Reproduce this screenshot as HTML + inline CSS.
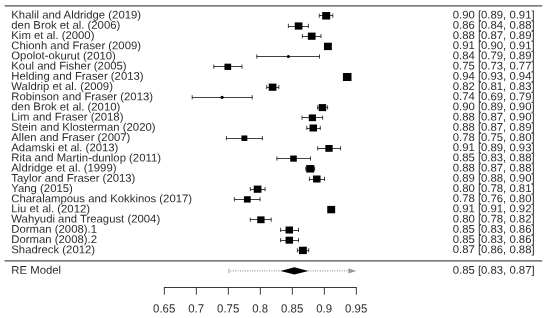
<!DOCTYPE html>
<html><head><meta charset="utf-8"><title>Forest plot</title>
<style>html,body{margin:0;padding:0;background:#fff;overflow:hidden}svg{display:block}text{font-family:"Liberation Sans",Arial,Helvetica,sans-serif;font-size:11.35px;fill:#2c2c2c}</style></head><body>
<svg width="550" height="318" viewBox="0 0 550 318">
<rect width="550" height="318" fill="#fff"/>
<g stroke="#505050" stroke-width="1.35" fill="none">
<line x1="4.6" y1="5.9" x2="542.2" y2="5.9"/>
<line x1="4.6" y1="260.9" x2="542.2" y2="260.9"/>
</g>
<text transform="translate(11.30,18.55) rotate(0.03) scale(1,0.98)">Khalil and Aldridge (2019)</text>
<text transform="translate(534.60,18.55) rotate(0.03) scale(1,0.98)" text-anchor="end">0.90 [0.89, 0.91]</text>
<path d="M319.3 15.50H332.8M319.3 13.60V17.80M332.8 13.60V17.80" stroke="#111" stroke-width="0.8" fill="none"/>
<rect x="322.20" y="12.06" width="8.00" height="7.47" fill="#000"/>
<text transform="translate(11.30,28.75) rotate(0.03) scale(1,0.98)">den Brok et al. (2006)</text>
<text transform="translate(534.60,28.75) rotate(0.03) scale(1,0.98)" text-anchor="end">0.86 [0.84, 0.88]</text>
<path d="M288.4 26.50H308.4M288.4 23.80V28.00M308.4 23.80V28.00" stroke="#111" stroke-width="0.8" fill="none"/>
<rect x="294.75" y="22.41" width="7.70" height="7.19" fill="#000"/>
<text transform="translate(11.30,38.95) rotate(0.03) scale(1,0.98)">Kim et al. (2000)</text>
<text transform="translate(534.60,38.95) rotate(0.03) scale(1,0.98)" text-anchor="end">0.88 [0.87, 0.89]</text>
<path d="M302.4 36.50H321.0M302.4 34.00V38.20M321.0 34.00V38.20" stroke="#111" stroke-width="0.8" fill="none"/>
<rect x="307.85" y="32.60" width="7.70" height="7.19" fill="#000"/>
<text transform="translate(11.30,49.15) rotate(0.03) scale(1,0.98)">Chionh and Fraser (2009)</text>
<text transform="translate(534.60,49.15) rotate(0.03) scale(1,0.98)" text-anchor="end">0.91 [0.90, 0.91]</text>
<rect x="323.95" y="42.71" width="7.90" height="7.38" fill="#000"/>
<text transform="translate(11.30,59.35) rotate(0.03) scale(1,0.98)">Opolot-okurut (2010)</text>
<text transform="translate(534.60,59.35) rotate(0.03) scale(1,0.98)" text-anchor="end">0.84 [0.79, 0.89]</text>
<path d="M256.8 56.50H319.5M256.8 54.40V58.60M319.5 54.40V58.60" stroke="#111" stroke-width="0.8" fill="none"/>
<circle cx="288.4" cy="56.50" r="1.6" fill="#000"/>
<text transform="translate(11.30,69.55) rotate(0.03) scale(1,0.98)">Koul and Fisher (2005)</text>
<text transform="translate(534.60,69.55) rotate(0.03) scale(1,0.98)" text-anchor="end">0.75 [0.73, 0.77]</text>
<path d="M213.8 66.50H242.0M213.8 64.60V68.80M242.0 64.60V68.80" stroke="#111" stroke-width="0.8" fill="none"/>
<rect x="224.45" y="63.68" width="6.70" height="6.24" fill="#000"/>
<text transform="translate(11.30,79.75) rotate(0.03) scale(1,0.98)">Helding and Fraser (2013)</text>
<text transform="translate(534.60,79.75) rotate(0.03) scale(1,0.98)" text-anchor="end">0.94 [0.93, 0.94]</text>
<rect x="342.90" y="72.98" width="8.60" height="8.04" fill="#000"/>
<text transform="translate(11.30,89.95) rotate(0.03) scale(1,0.98)">Waldrip et al. (2009)</text>
<text transform="translate(534.60,89.95) rotate(0.03) scale(1,0.98)" text-anchor="end">0.82 [0.81, 0.83]</text>
<path d="M266.7 87.50H278.8M266.7 85.00V89.20M278.8 85.00V89.20" stroke="#111" stroke-width="0.8" fill="none"/>
<rect x="268.75" y="83.60" width="7.70" height="7.19" fill="#000"/>
<text transform="translate(11.30,100.15) rotate(0.03) scale(1,0.98)">Robinson and Fraser (2013)</text>
<text transform="translate(534.60,100.15) rotate(0.03) scale(1,0.98)" text-anchor="end">0.74 [0.69, 0.79]</text>
<path d="M192.2 97.50H252.2M192.2 95.20V99.40M252.2 95.20V99.40" stroke="#111" stroke-width="0.8" fill="none"/>
<circle cx="222.1" cy="97.30" r="1.6" fill="#000"/>
<text transform="translate(11.30,110.35) rotate(0.03) scale(1,0.98)">den Brok et al. (2010)</text>
<text transform="translate(534.60,110.35) rotate(0.03) scale(1,0.98)" text-anchor="end">0.90 [0.89, 0.90]</text>
<path d="M317.6 107.50H327.6M317.6 105.40V109.60M327.6 105.40V109.60" stroke="#111" stroke-width="0.8" fill="none"/>
<rect x="318.65" y="104.10" width="7.50" height="7.00" fill="#000"/>
<text transform="translate(11.30,120.55) rotate(0.03) scale(1,0.98)">Lim and Fraser (2018)</text>
<text transform="translate(534.60,120.55) rotate(0.03) scale(1,0.98)" text-anchor="end">0.88 [0.87, 0.90]</text>
<path d="M302.0 117.50H322.6M302.0 115.60V119.80M322.6 115.60V119.80" stroke="#111" stroke-width="0.8" fill="none"/>
<rect x="308.80" y="114.44" width="7.20" height="6.71" fill="#000"/>
<text transform="translate(11.30,130.75) rotate(0.03) scale(1,0.98)">Stein and Klosterman (2020)</text>
<text transform="translate(534.60,130.75) rotate(0.03) scale(1,0.98)" text-anchor="end">0.88 [0.87, 0.89]</text>
<path d="M306.8 128.50H320.3M306.8 125.80V130.00M320.3 125.80V130.00" stroke="#111" stroke-width="0.8" fill="none"/>
<rect x="309.55" y="124.50" width="7.50" height="7.00" fill="#000"/>
<text transform="translate(11.30,140.95) rotate(0.03) scale(1,0.98)">Allen and Fraser (2007)</text>
<text transform="translate(534.60,140.95) rotate(0.03) scale(1,0.98)" text-anchor="end">0.78 [0.75, 0.80]</text>
<path d="M226.4 138.50H262.4M226.4 136.00V140.20M262.4 136.00V140.20" stroke="#111" stroke-width="0.8" fill="none"/>
<rect x="241.45" y="135.46" width="5.90" height="5.48" fill="#000"/>
<text transform="translate(11.30,151.15) rotate(0.03) scale(1,0.98)">Adamski et al. (2013)</text>
<text transform="translate(534.60,151.15) rotate(0.03) scale(1,0.98)" text-anchor="end">0.91 [0.89, 0.93]</text>
<path d="M317.7 148.50H340.6M317.7 146.20V150.40M340.6 146.20V150.40" stroke="#111" stroke-width="0.8" fill="none"/>
<rect x="325.35" y="144.99" width="7.30" height="6.81" fill="#000"/>
<text transform="translate(11.30,161.35) rotate(0.03) scale(1,0.98)">Rita and Martin-dunlop (2011)</text>
<text transform="translate(534.60,161.35) rotate(0.03) scale(1,0.98)" text-anchor="end">0.85 [0.83, 0.88]</text>
<path d="M276.9 158.50H310.5M276.9 156.40V160.60M310.5 156.40V160.60" stroke="#111" stroke-width="0.8" fill="none"/>
<rect x="290.20" y="155.53" width="6.60" height="6.14" fill="#000"/>
<text transform="translate(11.30,171.55) rotate(0.03) scale(1,0.98)">Aldridge et al. (1999)</text>
<text transform="translate(534.60,171.55) rotate(0.03) scale(1,0.98)" text-anchor="end">0.88 [0.87, 0.88]</text>
<path d="M305.8 168.50H314.6M305.8 166.60V170.80M314.6 166.60V170.80" stroke="#111" stroke-width="0.8" fill="none"/>
<rect x="306.20" y="165.06" width="8.00" height="7.47" fill="#000"/>
<text transform="translate(11.30,181.75) rotate(0.03) scale(1,0.98)">Taylor and Fraser (2013)</text>
<text transform="translate(534.60,181.75) rotate(0.03) scale(1,0.98)" text-anchor="end">0.89 [0.88, 0.90]</text>
<path d="M309.4 179.50H324.5M309.4 176.80V181.00M324.5 176.80V181.00" stroke="#111" stroke-width="0.8" fill="none"/>
<rect x="313.05" y="175.50" width="7.50" height="7.00" fill="#000"/>
<text transform="translate(11.30,191.95) rotate(0.03) scale(1,0.98)">Yang (2015)</text>
<text transform="translate(534.60,191.95) rotate(0.03) scale(1,0.98)" text-anchor="end">0.80 [0.78, 0.81]</text>
<path d="M250.3 189.50H265.1M250.3 187.00V191.20M265.1 187.00V191.20" stroke="#111" stroke-width="0.8" fill="none"/>
<rect x="253.75" y="185.60" width="7.70" height="7.19" fill="#000"/>
<text transform="translate(11.30,202.15) rotate(0.03) scale(1,0.98)">Charalampous and Kokkinos (2017)</text>
<text transform="translate(534.60,202.15) rotate(0.03) scale(1,0.98)" text-anchor="end">0.78 [0.76, 0.80]</text>
<path d="M234.4 199.50H260.1M234.4 197.20V201.40M260.1 197.20V201.40" stroke="#111" stroke-width="0.8" fill="none"/>
<rect x="243.90" y="196.23" width="6.80" height="6.33" fill="#000"/>
<text transform="translate(11.30,212.35) rotate(0.03) scale(1,0.98)">Liu et al. (2012)</text>
<text transform="translate(534.60,212.35) rotate(0.03) scale(1,0.98)" text-anchor="end">0.91 [0.91, 0.92]</text>
<rect x="327.25" y="205.91" width="7.90" height="7.38" fill="#000"/>
<text transform="translate(11.30,222.55) rotate(0.03) scale(1,0.98)">Wahyudi and Treagust (2004)</text>
<text transform="translate(534.60,222.55) rotate(0.03) scale(1,0.98)" text-anchor="end">0.80 [0.78, 0.82]</text>
<path d="M250.3 219.50H271.2M250.3 217.60V221.80M271.2 217.60V221.80" stroke="#111" stroke-width="0.8" fill="none"/>
<rect x="257.25" y="216.39" width="7.30" height="6.81" fill="#000"/>
<text transform="translate(11.30,232.75) rotate(0.03) scale(1,0.98)">Dorman (2008).1</text>
<text transform="translate(534.60,232.75) rotate(0.03) scale(1,0.98)" text-anchor="end">0.85 [0.83, 0.86]</text>
<path d="M280.6 230.50H298.5M280.6 227.80V232.00M298.5 227.80V232.00" stroke="#111" stroke-width="0.8" fill="none"/>
<rect x="285.55" y="226.50" width="7.50" height="7.00" fill="#000"/>
<text transform="translate(11.30,242.95) rotate(0.03) scale(1,0.98)">Dorman (2008).2</text>
<text transform="translate(534.60,242.95) rotate(0.03) scale(1,0.98)" text-anchor="end">0.85 [0.83, 0.86]</text>
<path d="M280.6 240.50H298.5M280.6 238.00V242.20M298.5 238.00V242.20" stroke="#111" stroke-width="0.8" fill="none"/>
<rect x="285.55" y="236.70" width="7.50" height="7.00" fill="#000"/>
<text transform="translate(11.30,253.15) rotate(0.03) scale(1,0.98)">Shadreck (2012)</text>
<text transform="translate(534.60,253.15) rotate(0.03) scale(1,0.98)" text-anchor="end">0.87 [0.86, 0.88]</text>
<path d="M297.4 250.50H308.7M297.4 248.20V252.40M308.7 248.20V252.40" stroke="#111" stroke-width="0.8" fill="none"/>
<rect x="298.95" y="246.71" width="7.90" height="7.38" fill="#000"/>
<text transform="translate(11.30,273.75) rotate(0.03) scale(1,0.98)">RE Model</text>
<text transform="translate(534.60,273.75) rotate(0.03) scale(1,0.98)" text-anchor="end">0.85 [0.83, 0.87]</text>
<g stroke="#999"><line x1="230.3" y1="270.9" x2="349" y2="270.9" stroke-width="1.25" stroke-dasharray="1 1.42"/><line x1="228.9" y1="268.5" x2="228.9" y2="273.29999999999995" stroke-width="0.9"/></g>
<polygon points="348.4,268.29999999999995 356.4,270.9 348.4,273.5" fill="#999"/>
<polygon points="280.6,270.9 294.4,267.29999999999995 308.3,270.9 294.4,274.5" fill="#000"/>
<g stroke="#222" stroke-width="0.9" fill="none">
<line x1="163.9" y1="287.5" x2="356.7" y2="287.5"/>
<line x1="164.35" y1="287.5" x2="164.35" y2="294.7"/>
<line x1="196.35" y1="287.5" x2="196.35" y2="294.7"/>
<line x1="228.35" y1="287.5" x2="228.35" y2="294.7"/>
<line x1="260.35" y1="287.5" x2="260.35" y2="294.7"/>
<line x1="292.35" y1="287.5" x2="292.35" y2="294.7"/>
<line x1="324.35" y1="287.5" x2="324.35" y2="294.7"/>
<line x1="356.35" y1="287.5" x2="356.35" y2="294.7"/>
</g>
<text transform="translate(164.20,312.6) rotate(0.03) scale(1,1.04)" text-anchor="middle" style="font-size:11.4px">0.65</text>
<text transform="translate(196.20,312.6) rotate(0.03) scale(1,1.04)" text-anchor="middle" style="font-size:11.4px">0.7</text>
<text transform="translate(228.20,312.6) rotate(0.03) scale(1,1.04)" text-anchor="middle" style="font-size:11.4px">0.75</text>
<text transform="translate(260.20,312.6) rotate(0.03) scale(1,1.04)" text-anchor="middle" style="font-size:11.4px">0.8</text>
<text transform="translate(292.20,312.6) rotate(0.03) scale(1,1.04)" text-anchor="middle" style="font-size:11.4px">0.85</text>
<text transform="translate(324.20,312.6) rotate(0.03) scale(1,1.04)" text-anchor="middle" style="font-size:11.4px">0.9</text>
<text transform="translate(356.20,312.6) rotate(0.03) scale(1,1.04)" text-anchor="middle" style="font-size:11.4px">0.95</text>
</svg></body></html>
